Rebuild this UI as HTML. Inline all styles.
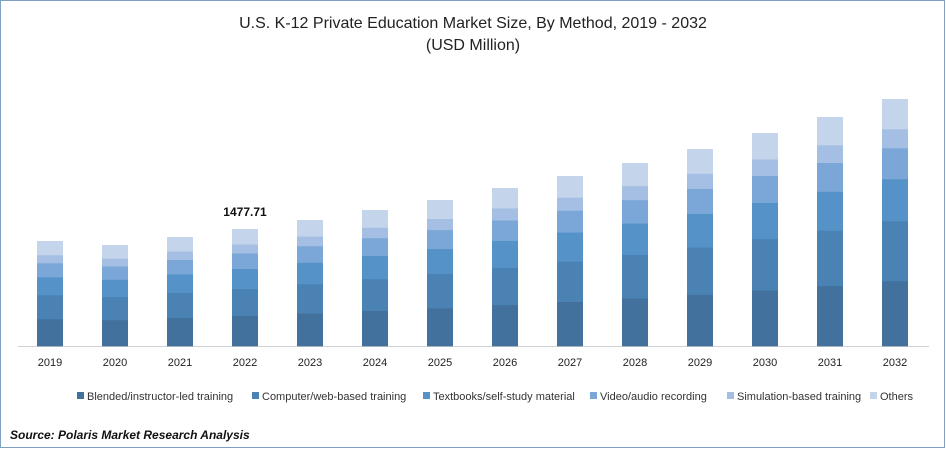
<!DOCTYPE html><html><head><style>body{margin:0;background:#fff}svg{display:block;font-family:"Liberation Sans",sans-serif}</style></head><body>
<svg id="s" width="946" height="449" xmlns="http://www.w3.org/2000/svg">
<rect x="0.5" y="0.5" width="944" height="447" fill="#fff" stroke="#7f9fc4"/>
<text x="473" y="28" font-size="16" text-anchor="middle" fill="#222">U.S. K-12 Private Education Market Size, By Method, 2019 - 2032</text>
<text x="473" y="50" font-size="16" text-anchor="middle" fill="#222">(USD Million)</text>
<line x1="18" y1="346.5" x2="929" y2="346.5" stroke="#d0d0d0"/>
<g id="bars"></g>
<text x="245" y="216" font-size="12" font-weight="bold" text-anchor="middle" fill="#111">1477.71</text>
<g font-size="11" fill="#333" id="leg"></g>
<text x="10" y="439" font-size="12" font-weight="bold" font-style="italic" fill="#111">Source: Polaris Market Research Analysis</text>
</svg>
<script>
var cols=["#41719c","#4a82b4","#5592c8","#7aa7d7","#a4bfe3","#c4d4ea"];
var a=[27,24,18,14,8,14],b=[65,60,42,31,19,30];
var tops=[241,245,237,229,220,210,200,188,176,163,149,133,117,99];
var g="";
for(var i=0;i<14;i++){var t=i/13,h=346-tops[i],p=[],s=0;
for(var k=0;k<6;k++){var v=(1-t)*a[k]/105+t*b[k]/247;p.push(v);s+=v;}
var y=346,x=37+i*65;
for(var k=0;k<6;k++){var hh=h*p[k]/s;y-=hh;g+='<rect x="'+x+'" y="'+y.toFixed(2)+'" width="26" height="'+(hh+0.3).toFixed(2)+'" fill="'+cols[k]+'"/>';}
g+='<text x="'+(x+13)+'" y="366" font-size="11" text-anchor="middle" fill="#222">'+(2019+i)+'</text>';}
document.getElementById("bars").innerHTML=g;
var L=[["Blended/instructor-led training",77],["Computer/web-based training",252],["Textbooks/self-study material",423],["Video/audio recording",590],["Simulation-based training",727],["Others",870]];
var lg="";L.forEach(function(l,i){lg+='<rect x="'+l[1]+'" y="392" width="7" height="7" fill="'+cols[i]+'"/><text x="'+(l[1]+10)+'" y="400">'+l[0]+'</text>';});
document.getElementById("leg").innerHTML=lg;
</script></body></html>
